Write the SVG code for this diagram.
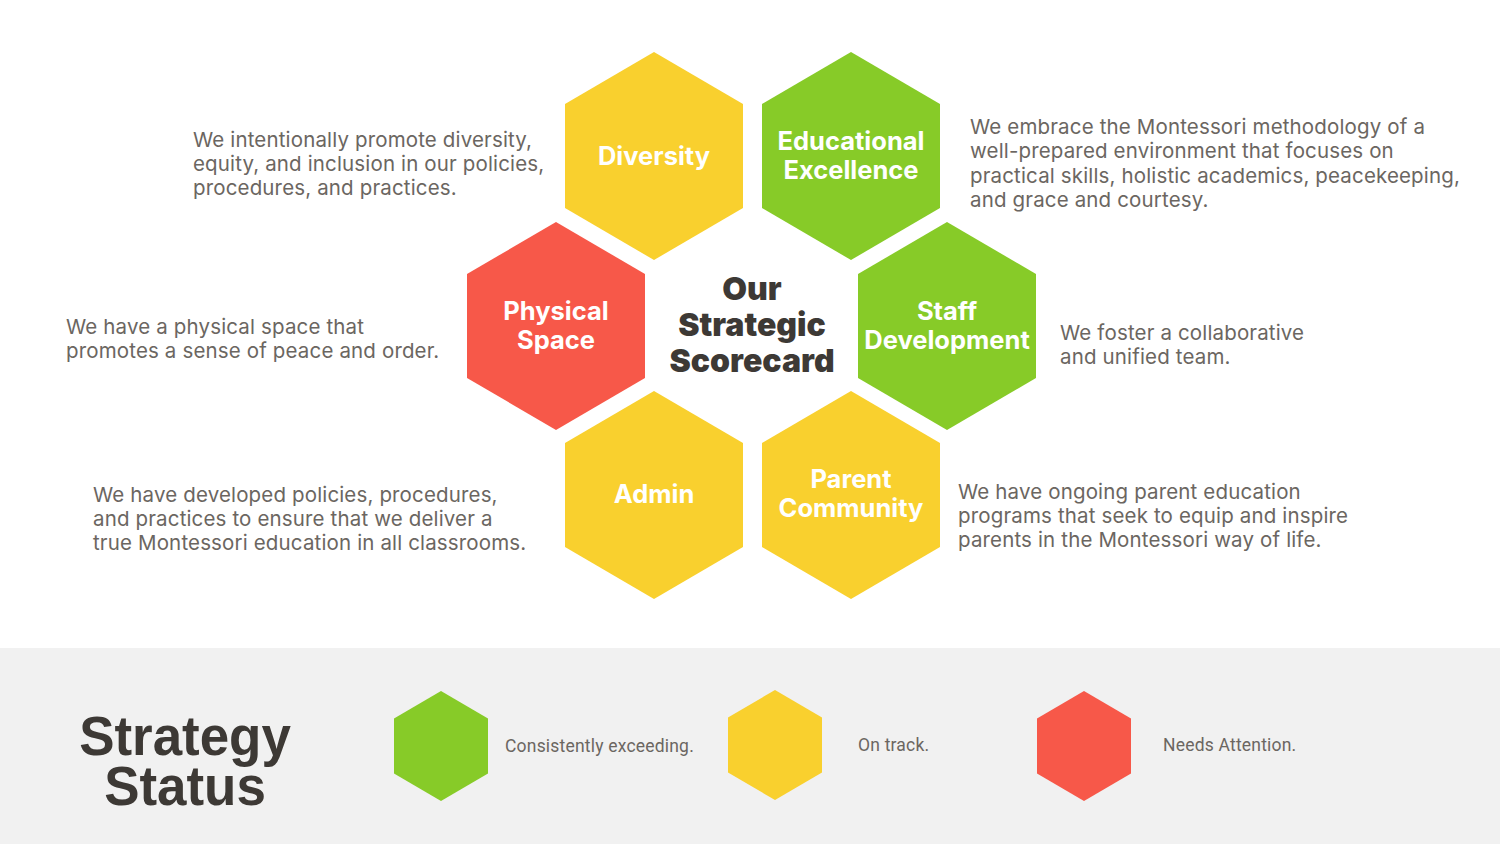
<svg xmlns="http://www.w3.org/2000/svg" width="1500" height="844" viewBox="0 0 1500 844">
<style>
.y{fill:#f9d02e}.g{fill:#87cb28}.r{fill:#f75849}
.lbl{font-family:Inter,"Open Sans",sans-serif;font-weight:700;font-size:25.5px;fill:#ffffff;text-anchor:middle}
.desc{font-family:Inter,"Open Sans",sans-serif;font-size:20.5px;letter-spacing:0.15px;fill:#6b6661}
.ctr{font-family:Inter,Roboto,sans-serif;font-weight:900;font-size:32px;fill:#3d3935;text-anchor:middle}
.big{font-family:"Liberation Sans",Arial,sans-serif;font-weight:700;font-size:56px;fill:#3d3935;text-anchor:middle}
.leg{font-family:Roboto,"Liberation Sans",sans-serif;font-size:17.5px;letter-spacing:0.2px;fill:#6b6661}
</style>
<defs>
<polygon id="hex" points="0,-104 89,-52 89,52 0,104 -89,52 -89,-52"/>
<polygon id="shex" points="0,-55 47,-27.5 47,27.5 0,55 -47,27.5 -47,-27.5"/>
</defs>
<rect x="0" y="0" width="1500" height="844" fill="#ffffff"/>
<rect x="0" y="648" width="1500" height="196" fill="#f1f1f1"/>

<g id="diversity">
<use href="#hex" x="654" y="156" class="y"/>
<text class="lbl" x="654" y="165">Diversity</text>
<text class="desc" x="193"><tspan x="193" y="147">We intentionally promote diversity,</tspan><tspan x="193" y="171">equity, and inclusion in our policies,</tspan><tspan x="193" y="195">procedures, and practices.</tspan></text>
</g>

<g id="educational-excellence">
<use href="#hex" x="851" y="156" class="g"/>
<text class="lbl" x="851" y="150">Educational</text>
<text class="lbl" x="851" y="179">Excellence</text>
<text class="desc" x="970"><tspan x="970" y="134">We embrace the Montessori methodology of a</tspan><tspan x="970" y="158">well-prepared environment that focuses on</tspan><tspan x="970" y="183">practical skills, holistic academics, peacekeeping,</tspan><tspan x="970" y="207">and grace and courtesy.</tspan></text>
</g>

<g id="physical-space">
<use href="#hex" x="556" y="326" class="r"/>
<text class="lbl" x="556" y="320">Physical</text>
<text class="lbl" x="556" y="349">Space</text>
<text class="desc" x="66"><tspan x="66" y="334">We have a physical space that</tspan><tspan x="66" y="358">promotes a sense of peace and order.</tspan></text>
</g>

<g id="center">
<text class="ctr" x="752" y="300">Our</text>
<text class="ctr" x="752" y="336">Strategic</text>
<text class="ctr" x="752" y="372">Scorecard</text>
</g>

<g id="staff-development">
<use href="#hex" x="947" y="326" class="g"/>
<text class="lbl" x="947" y="320">Staff</text>
<text class="lbl" x="947" y="349">Development</text>
<text class="desc" x="1060"><tspan x="1060" y="340">We foster a collaborative</tspan><tspan x="1060" y="364">and unified team.</tspan></text>
</g>

<g id="admin">
<use href="#hex" x="654" y="495" class="y"/>
<text class="lbl" x="654" y="503">Admin</text>
<text class="desc" x="93"><tspan x="93" y="502">We have developed policies, procedures,</tspan><tspan x="93" y="526">and practices to ensure that we deliver a</tspan><tspan x="93" y="550">true Montessori education in all classrooms.</tspan></text>
</g>

<g id="parent-community">
<use href="#hex" x="851" y="495" class="y"/>
<text class="lbl" x="851" y="488">Parent</text>
<text class="lbl" x="851" y="517">Community</text>
<text class="desc" x="958"><tspan x="958" y="499">We have ongoing parent education</tspan><tspan x="958" y="523">programs that seek to equip and inspire</tspan><tspan x="958" y="547">parents in the Montessori way of life.</tspan></text>
</g>

<g id="legend-title">
<text class="big" transform="translate(185,0) scale(0.945,1)"><tspan x="0" y="755">Strategy</tspan><tspan x="0" y="805">Status</tspan></text>
</g>
<g id="legend-exceeding">
<use href="#shex" x="441" y="746" class="g"/>
<text class="leg" x="505" y="752">Consistently exceeding.</text>
</g>
<g id="legend-ontrack">
<use href="#shex" x="775" y="745" class="y"/>
<text class="leg" x="858" y="751">On track.</text>
</g>
<g id="legend-attention">
<use href="#shex" x="1084" y="746" class="r"/>
<text class="leg" x="1163" y="751">Needs Attention.</text>
</g>
<g id="connectors"/>
</svg>
